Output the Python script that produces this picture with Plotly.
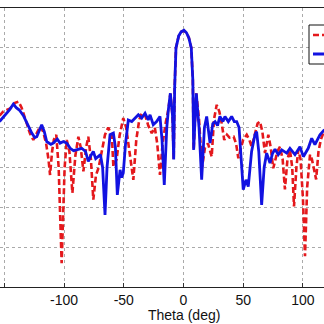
import plotly.graph_objects as go

# Radiation pattern, dB versus theta (deg)
theta_meas = [-154, -151, -148, -145, -141, -138, -135.5, -132, -128.5, -125.7, -123, -120, -117.5,
              -115, -113, -111.7, -110, -108.5, -106.5, -104.5, -102, -99.5, -97.7, -95.5, -93,
              -90.5, -88, -86, -83.8, -81.5, -79.7, -77.5, -75.5, -73.3, -71, -68.5, -65.7, -63,
              -60, -58.7, -56, -53.5, -50.4, -48, -45.5, -42, -39.5, -37, -35, -32, -29.5, -26.6,
              -24, -22, -19.7, -17.5, -15, -12.7, -11, -9.2, -8.2, -7.4, -6.3, -4, -2, 0.4, 2.5,
              4.5, 6.5, 7.8, 8.5, 10.7, 13, 15.5, 18, 20.5, 23.6, 25.5, 27.8, 30, 32, 34.1, 36.4,
              38.5, 42, 44, 45.9, 47.5, 50, 52.9, 55, 57.1, 60, 62, 64, 66, 68.2, 71, 73, 75.1,
              76.6, 78.5, 80.8, 83, 84.9, 87, 89.1, 91, 92.5, 94.5, 96.1, 98, 100, 101.7, 103.5,
              105.9, 107.5, 109, 111, 113, 115, 117, 118]
db_meas = [-27, -26, -25.6, -25.2, -23.8, -23.5, -25, -28, -31.5, -33.1, -31.5, -29.7, -31,
           -34, -38, -41.9, -36, -33, -31.8, -40, -64, -40, -33.1, -36, -46.4,
           -37, -32.3, -35, -41, -35, -32.3, -38, -48.1, -42, -40, -36, -31.8, -30,
           -32, -39.8, -38, -32, -27.6, -30, -36, -43.1, -33, -28, -26.4, -27, -29.5, -31.4,
           -30, -34, -41.9, -34, -29, -25.5, -21.5, -27, -38, -20, -10, -7, -6, -5.7, -6.2,
           -7.5, -10, -18, -35.6, -21.4, -28, -40, -35, -34, -37.3, -28, -24.3, -26, -29, -33.1, -31.8,
           -32.5, -32.3, -34, -37.7, -36, -33, -31.8, -33, -34.8, -31, -29, -28.5, -31, -36.4, -31.8, -35, -40.2,
           -38.5, -36, -34.8, -38, -45.5, -38, -35.6, -40, -49.8, -40, -35.6, -38, -48, -62.3, -45,
           -36.8, -38, -40, -43, -36, -33, -31.4, -31]

theta_sim = [-154, -151, -148, -145.5, -142.4, -140, -137.4, -134, -130, -127, -124.5, -122.8, -118.7,
             -116.5, -114.5, -111, -109, -105.6, -103.3, -100.5, -97.7, -94.8, -92, -89, -85.2, -82,
             -79.7, -77.5, -75.5, -73.5, -71.3, -69.5, -67.7, -65.7, -64, -61.5, -58.7, -57, -55.4,
             -53.1, -51.8, -50.4, -48.5, -46.2, -43.3, -41, -37.8, -35, -32.2, -29.5, -28, -25.3,
             -22.5, -19.7, -18, -16.1, -14, -12.7, -11, -9.2, -8.2, -7.4, -6.3, -4, -2, 0.4, 2.5,
             4.5, 6.5, 7.8, 8.5, 10.7, 13, 15.2, 17.5, 19.4, 22.2, 24.5, 26.4, 28.5, 30.5, 33, 34.7,
             37.5, 40.3, 42.5, 44.5, 46.5, 48, 50, 52.3, 54.2, 57, 59.8, 61.2, 63, 65.4, 67.5, 69.6,
             72.4, 74.5, 76.6, 79.3, 82.2, 86.4, 89.1, 93.3, 97.5, 100.3, 104.4, 107.3, 110, 114.2,
             117, 118]
db_sim = [-28.5, -27.5, -26.5, -25.5, -24.1, -25, -25.6, -27, -29.5, -31.4, -32.5, -32.3, -29.3,
          -31, -33.5, -34.2, -33.9, -32.9, -33.9, -33.5, -33.9, -35.2, -35.8, -35.6, -35.2, -36,
          -38.5, -37, -36, -37.8, -37.3, -36.8, -40, -51.9, -40, -31.8, -31.4, -35, -46.9,
          -40.6, -42.5, -41.4, -34, -28.1, -28.5, -27.8, -26.8, -27.6, -26.4, -28.1, -26.8, -29.3,
          -28.5, -27.2, -33, -44.4, -30, -25.6, -21.4, -27, -38, -20, -10, -7, -6, -5.6, -6.2,
          -7.5, -10, -18, -35.6, -21.4, -30, -43.1, -30, -27.2, -33.9, -29, -28.5, -29.5, -27.2, -28.5, -27.2,
          -28.5, -27.2, -28.5, -28.5, -30, -38, -45.6, -43.1, -44.8, -36, -31.8, -31, -36, -49.4, -40, -36.4,
          -38.9, -36.5, -35.4, -36.8, -35.6, -36.4, -35.2, -36.8, -34.8, -37.3, -35.2, -32.7, -34.3, -31.8,
          -31, -30.5]

x_ticks = [-150, -100, -50, 0, 50, 100]
x_tick_labels = ["-150", "-100", "-50", "0", "50", "100"]

RED = "rgb(228,24,28)"
BLUE = "rgb(18,18,225)"

fig = go.Figure()
fig.add_trace(go.Scatter(x=theta_meas, y=db_meas, mode="lines", name="Measured",
                         line=dict(color=RED, width=2.6, dash="6px,3px")))
fig.add_trace(go.Scatter(x=theta_sim, y=db_sim, mode="lines", name="Simulated",
                         line=dict(color=BLUE, width=2.8)))

grid = dict(showgrid=True, gridcolor="rgb(170,170,170)", gridwidth=1, griddash="dot", zeroline=False)

fig.update_xaxes(range=[-153.6, 117.6], tickvals=x_ticks, ticktext=x_tick_labels,
                 ticks="inside", ticklen=4,
                 tickcolor="#333", showline=True, linecolor="#222", linewidth=1, mirror=True,
                 tickfont=dict(family="Liberation Sans, Arial", size=14, color="#111"),
                 automargin=False, **grid)
fig.update_yaxes(range=[-70, 0], dtick=10, showticklabels=False, showline=False,
                 automargin=False, **grid)

fig.add_annotation(text="Theta (deg)", x=0, xref="x", y=0, yref="paper", yanchor="top",
                   yshift=-18, showarrow=False,
                   font=dict(family="Liberation Sans, Arial", size=14, color="#111"))

# legend frame
PLOT_H = 279
fig.add_shape(type="rect", xref="paper", yref="paper",
              x0=309 / 324, x1=1.2, y0=(287 - 64) / PLOT_H, y1=(287 - 25) / PLOT_H,
              line=dict(color="#111", width=1), fillcolor="white", layer="above")

fig.update_layout(
    width=324, height=324,
    margin=dict(l=0, r=0, t=8, b=37, autoexpand=False),
    plot_bgcolor="white", paper_bgcolor="white",
    showlegend=True,
    legend=dict(x=308 / 324, y=(287 - 20.5) / PLOT_H, xanchor="left", yanchor="top",
                borderwidth=0, bgcolor="rgba(0,0,0,0)",
                font=dict(family="Liberation Sans, Arial", size=12, color="#111"),
                tracegroupgap=0, itemwidth=30),
)

fig.write_html("out.html")
